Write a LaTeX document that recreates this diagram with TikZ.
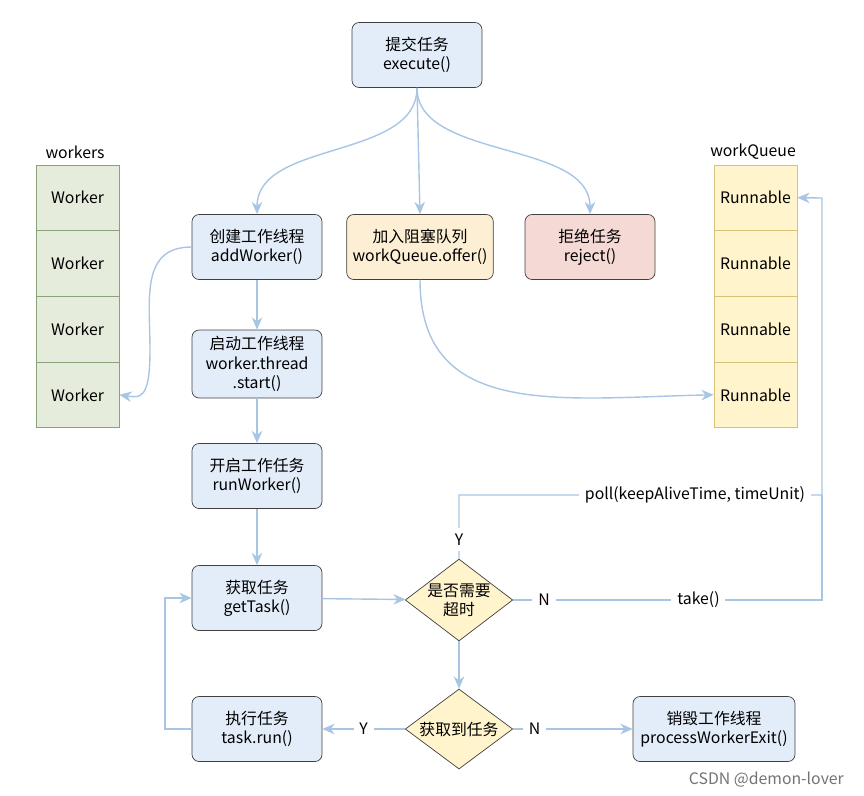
\documentclass[tikz,border=0pt]{standalone}
\usepackage{fontspec}
\setmainfont{Noto Sans CJK SC}
\usetikzlibrary{arrows.meta, positioning, shapes.geometric}
\definecolor{blueFill}{HTML}{E3EDFA}
\definecolor{orangeFill}{HTML}{FDEFD3}
\definecolor{redFill}{HTML}{F5D9D5}
\definecolor{greenFill}{HTML}{E5ECDC}
\definecolor{greenLine}{HTML}{8AA27A}
\definecolor{yellowFill}{HTML}{FFF4CC}
\definecolor{yellowLine}{HTML}{D8C27A}
\definecolor{arrowBlue}{HTML}{A8C6E4}

\begin{document}
\begin{tikzpicture}[x=0.02cm, y=-0.02cm, >={Stealth[length=7pt,width=6pt]}]
\tikzset{
    box/.style={draw=black!75, rounded corners=4pt, minimum width=2.6cm, minimum height=1.3cm, align=center, font=\fontsize{9}{11}\selectfont},
    cell/.style={minimum width=1.66cm, minimum height=1.31cm, font=\fontsize{9}{11}\selectfont},
    decide/.style={diamond, draw=black!75, fill=yellowFill, aspect=1.3, minimum width=2.15cm, minimum height=1.6cm, inner sep=0pt, align=center, font=\fontsize{9}{11}\selectfont},
    flow/.style={draw=arrowBlue, line width=0.8pt, ->},
    lbl/.style={font=\fontsize{9}{11}\selectfont},
  }
\useasboundingbox (0,0) rectangle (864,795);
\node (execute) [box, fill=blueFill] at (417,55) {提交任务\\execute()};
\node (add_worker) [box, fill=blueFill] at (257,247) {创建工作线程\\addWorker()};
\node (offer) [box, fill=orangeFill, minimum width=2.8cm] at (420,247) {加入阻塞队列\\workQueue.offer()};
\node (reject) [box, fill=redFill] at (590,247) {拒绝任务\\reject()};
\node (start) [box, fill=blueFill, minimum height=1.36cm] at (257,364) {启动工作线程\\worker.thread\\.start()};
\node (run_worker) [box, fill=blueFill] at (257,476) {开启工作任务\\runWorker()};
\node (get_task) [box, fill=blueFill] at (257,598) {获取任务\\getTask()};
\node (task_run) [box, fill=blueFill] at (257,729) {执行任务\\task.run()};
\node (timeout) [decide] at (459,600) {是否需要\\超时};
\node (got_task) [decide] at (459,729) {获取到任务};
\node (exit) [box, fill=blueFill, minimum width=3.24cm] at (714,729) {销毁工作线程\\processWorkerExit()};
% workers and workQueue
\node [lbl] at (75,152) {workers};
\node [lbl] at (753,152) {workQueue};
\foreach \i in {1,...,4} {
  \node (worker\i) [cell, draw=greenLine, fill=greenFill] at (77.5,132+65.7*\i) {Worker};
  \node (runnable\i) [cell, draw=yellowLine, fill=yellowFill] at (755.5,132+65.7*\i) {Runnable};
}
% connectors
\draw [flow] (execute.south) .. controls (417,160) and (257,140) .. (add_worker.north);
\draw [flow] (execute.south) -- (offer.north);
\draw [flow] (execute.south) .. controls (417,160) and (590,140) .. (reject.north);
\draw [flow] (add_worker.west) .. controls (140,247) and (150,300) .. (150,350) .. controls (150,400) and (140,398) .. (worker4.east);
\draw [flow] (offer.south) .. controls (420,420) and (560,398) .. (runnable4.west);
\draw [flow] (add_worker) -- (start);
\draw [flow] (start) -- (run_worker);
\draw [flow] (run_worker) -- (get_task);
\draw [flow] (get_task) -- (timeout);
\draw [flow] (timeout) -- (got_task);
\draw [flow] (got_task) -- node[lbl, fill=white, text=black] {Y} (task_run);
\draw [flow] (got_task) -- node[lbl, pos=0.18, fill=white, text=black] {N} (exit);
\draw [flow] (task_run.west) -- (165,729) -- (165,598) -- (get_task.west);
\coordinate (loop_top) at (822,198);
\draw [flow] (timeout.north) -- node[lbl, fill=white, text=black, pos=0.3] {Y} (459,495)
  -- node[lbl, fill=white, text=black, pos=0.65] {poll(keepAliveTime, timeUnit)} (822,495) -- (loop_top) -- (runnable1.east);
\draw [draw=arrowBlue, line width=0.8pt] (timeout.east) -- node[lbl, fill=white, text=black, pos=0.1] {N}
  node[lbl, fill=white, text=black, pos=0.6] {take()} (822,600) -- (822,495);
\node [lbl, text=black!55, anchor=east] at (850,780) {CSDN @demon-lover};
\end{tikzpicture}
\end{document}
